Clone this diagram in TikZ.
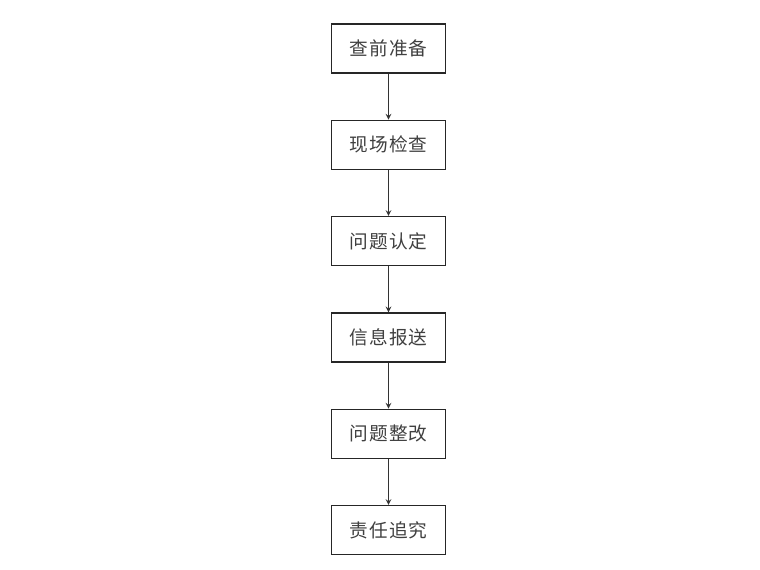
\documentclass[tikz,border=0pt]{standalone}
\usepackage{fontspec}
\newfontfamily\cjk[LetterSpace=6]{Noto Sans CJK SC}
\usetikzlibrary{positioning}
\begin{document}
\begin{tikzpicture}[x=0.75pt,y=-0.75pt,
    box/.style = {draw=black!85,line width=1.1pt,minimum width=85.5pt,
                  minimum height=36.75pt,inner sep=0pt,
                  font=\cjk\fontsize{14}{14}\selectfont,text=black!75},
    arrow/.style = {line width=0.9pt,black!80,-stealth},
    node distance=34.4pt]
    \useasboundingbox[fill=white] (0,0) rectangle (760,570);

    \node[box] (prep) at (388.5,48.5) {查前准备};
    \node[box,below=of prep] (site) {现场检查};
    \node[box,below=of site] (ident) {问题认定};
    \node[box,below=of ident] (report) {信息报送};
    \node[box,below=of report] (fix) {问题整改};
    \node[box,below=of fix] (blame) {责任追究};

    \draw[arrow] (prep) -- (site);
    \draw[arrow] (site) -- (ident);
    \draw[arrow] (ident) -- (report);
    \draw[arrow] (report) -- (fix);
    \draw[arrow] (fix) -- (blame);
\end{tikzpicture}
\end{document}
